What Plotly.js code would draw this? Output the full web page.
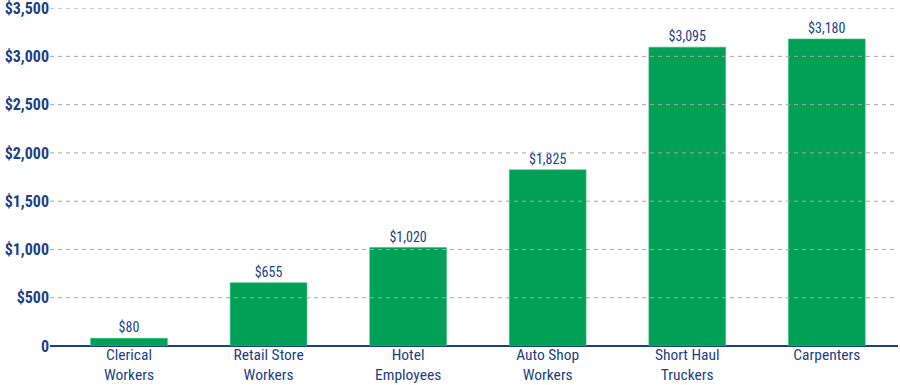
<!DOCTYPE html>
<html>
<head>
<meta charset="utf-8">
<script src="https://cdn.plot.ly/plotly-3.0.1.min.js"></script>
<style>
html,body{margin:0;padding:0;background:#fff;}
#chart{width:900px;height:385px;}
</style>
</head>
<body>
<div id="chart"></div>
<script>
const categories = ["Clerical<br>Workers","Retail Store<br>Workers","Hotel<br>Employees","Auto Shop<br>Workers","Short Haul<br>Truckers","Carpenters"];
const values = [80, 655, 1020, 1825, 3095, 3180];
const yTickVals = [0, 500, 1000, 1500, 2000, 2500, 3000, 3500];
const yTickText = ["0", "$500", "$1,000", "$1,500", "$2,000", "$2,500", "$3,000", "$3,500"];

const FONT = "'Liberation Sans Narrow', 'Roboto Condensed', 'Arial Narrow', 'DejaVu Sans Condensed', sans-serif";
const NAVY = "#1c3f86";
const fmt = v => "$" + v.toLocaleString("en-US");

const trace = {
  type: "bar",
  x: categories.map((c, i) => i),
  y: values,
  text: values.map(fmt),
  textposition: "outside",
  cliponaxis: false,
  textfont: {family: FONT, size: 14, color: NAVY},
  marker: {color: "#00a057", line: {color: "#3dbb7a", width: 0.6}},
  width: 0.55,
  hoverinfo: "none"
};

const gridShapes = yTickVals.filter(v => v > 0).map(v => ({
  type: "line", xref: "paper", yref: "y", x0: 0, x1: 1, y0: v, y1: v,
  layer: "above", line: {color: "#a6a6a6", width: 1, dash: "4px,4px"}
}));

const layout = {
  width: 900, height: 385,
  margin: {l: 50, r: 2, t: 8, b: 39},
  paper_bgcolor: "#fff", plot_bgcolor: "#fff",
  showlegend: false,
  bargap: 0.45,
  xaxis: {
    range: [-0.566, 5.51],
    tickvals: categories.map((c, i) => i),
    ticktext: categories,
    showgrid: false, zeroline: false,
    showline: false,
    ticks: "",
    ticklabelstandoff: -3,
    tickfont: {family: FONT, size: 15.5, color: NAVY},
    fixedrange: true
  },
  yaxis: {
    range: [0, 3501],
    tickvals: yTickVals,
    ticktext: yTickText,
    showgrid: false,
    zeroline: true, zerolinecolor: NAVY, zerolinewidth: 2,
    ticks: "", ticklen: 0,
    ticklabeloverflow: "allow",
    tickfont: {family: FONT, size: 16, color: NAVY, weight: "bold"},
    fixedrange: true
  },
  shapes: gridShapes
};

Plotly.newPlot("chart", [trace], layout, {displayModeBar: false, staticPlot: true});
</script>
</body>
</html>
